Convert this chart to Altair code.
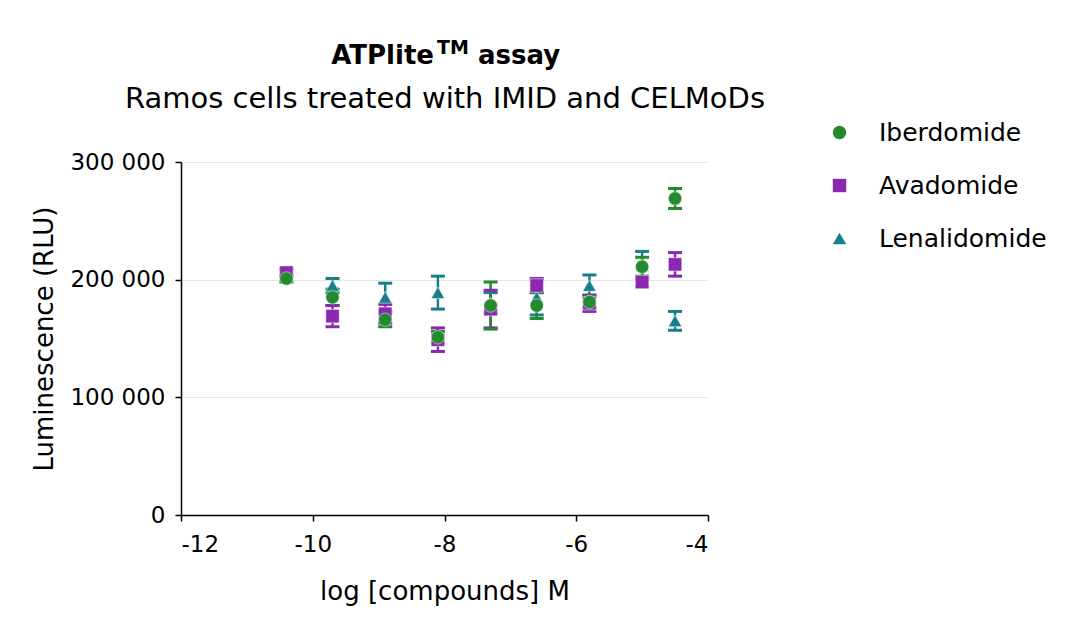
import altair as alt
import pandas as pd

compounds = ["Iberdomide", "Avadomide", "Lenalidomide"]
colors = ["#238B2E", "#8A28B0", "#16808A"]
shapes = ["circle", "square", "triangle-up"]

log_conc = [-10.4, -9.7, -8.9, -8.1, -7.3, -6.6, -5.8, -5.0, -4.5]
iber_mean = [201000, 185000, 166000, 151000, 178000, 178000, 181000, 211000, 269000]
iber_err = [3000, 7000, 6000, 5000, 20000, 11000, 5000, 8000, 8500]
avad_mean = [206000, 169000, 171000, 149000, 175000, 195000, 180000, 198000, 213000]
avad_err = [3000, 9000, 8000, 10000, 16000, 6000, 7000, 4000, 10000]
lena_mean = [None, 195000, 185000, 189000, 180000, 185000, 195000, 212000, 165000]
lena_err = [None, 6000, 12000, 14000, 9000, 15000, 9000, 12000, 8000]

rows = []
# drawing order: Lenalidomide first, Iberdomide on top
for name, means, errs in [("Lenalidomide", lena_mean, lena_err),
                          ("Avadomide", avad_mean, avad_err),
                          ("Iberdomide", iber_mean, iber_err)]:
    for x, m, e in zip(log_conc, means, errs):
        if m is None:
            continue
        rows.append({"compound": name, "logc": x, "mean": m,
                     "lo": m - e, "hi": m + e})
df = pd.DataFrame(rows)

FONT = "DejaVu Sans"

xs = alt.Scale(domain=[-12, -4], nice=False)
ys = alt.Scale(domain=[0, 300000], nice=False)
cs = alt.Scale(domain=compounds, range=colors)
ss = alt.Scale(domain=compounds, range=shapes)

base = alt.Chart(df)

x_enc = alt.X("logc:Q", scale=xs, title="log [compounds] M",
              axis=alt.Axis(values=[-12, -10, -8, -6, -4], grid=False,
                            labelExpr="'' + datum.value", labelPadding=12,
                            titlePadding=22))
y_axis = alt.Axis(values=[0, 100000, 200000, 300000],
                  labelExpr="replace(format(datum.value, ',d'), /,/g, ' ')",
                  labelPadding=10, titlePadding=12)

color_enc = alt.Color("compound:N", scale=cs,
                      legend=alt.Legend(title=None, orient="none",
                                        legendX=646, legendY=-42))
shape_enc = alt.Shape("compound:N", scale=ss)

bars = base.mark_rule(strokeWidth=2.5, opacity=1).encode(
    x=x_enc,
    y=alt.Y("lo:Q", scale=ys, title="Luminescence (RLU)", axis=y_axis),
    y2="hi:Q",
    color=color_enc,
)
caps_lo = base.mark_tick(orient="horizontal", size=14, thickness=3,
                         opacity=1).encode(x="logc:Q", y="lo:Q", color=color_enc)
caps_hi = base.mark_tick(orient="horizontal", size=14, thickness=3,
                         opacity=1).encode(x="logc:Q", y="hi:Q", color=color_enc)
points = base.mark_point(filled=True, size=180, opacity=1,
                         stroke="white", strokeWidth=0.5).encode(
    x="logc:Q", y="mean:Q", color=color_enc, shape=shape_enc,
)

one = alt.Data(values=[{}])
t1 = alt.Chart(one).mark_text(text="ATPlite", font=FONT, fontSize=26,
                              fontWeight="bold", align="right",
                              baseline="alphabetic", color="black").encode(
    x=alt.value(253), y=alt.value(-98))
t2 = alt.Chart(one).mark_text(text="TM", font=FONT, fontSize=19,
                              fontWeight="bold", align="left",
                              baseline="alphabetic", color="black").encode(
    x=alt.value(256), y=alt.value(-108))
t3 = alt.Chart(one).mark_text(text="assay", font=FONT, fontSize=26,
                              fontWeight="bold", align="left",
                              baseline="alphabetic", color="black").encode(
    x=alt.value(297), y=alt.value(-98))
t4 = alt.Chart(one).mark_text(text="Ramos cells treated with IMID and CELMoDs",
                              font=FONT, fontSize=29, align="center",
                              baseline="alphabetic", color="black").encode(
    x=alt.value(264), y=alt.value(-54))

chart = alt.layer(bars, caps_lo, caps_hi, points, t1, t2, t3, t4).properties(
    width=527, height=353,
    padding={"left": 23, "top": 31, "right": 5, "bottom": 5},
).configure_view(stroke=None).configure_axis(
    labelFont=FONT, titleFont=FONT, labelFontSize=23, titleFontSize=26,
    labelColor="black", titleColor="black", titleFontWeight="normal",
    domainColor="black", domainWidth=1.5, tickColor="black", tickWidth=1.5,
    tickSize=6, gridColor="#e6e6e6", gridWidth=1,
).configure_legend(
    labelFont=FONT, labelFontSize=25, labelColor="black", labelLimit=400,
    symbolSize=180, rowPadding=27, labelOffset=27, symbolStrokeWidth=0,
)

chart.save("out.html", embed_options={"renderer": "svg", "actions": False})
